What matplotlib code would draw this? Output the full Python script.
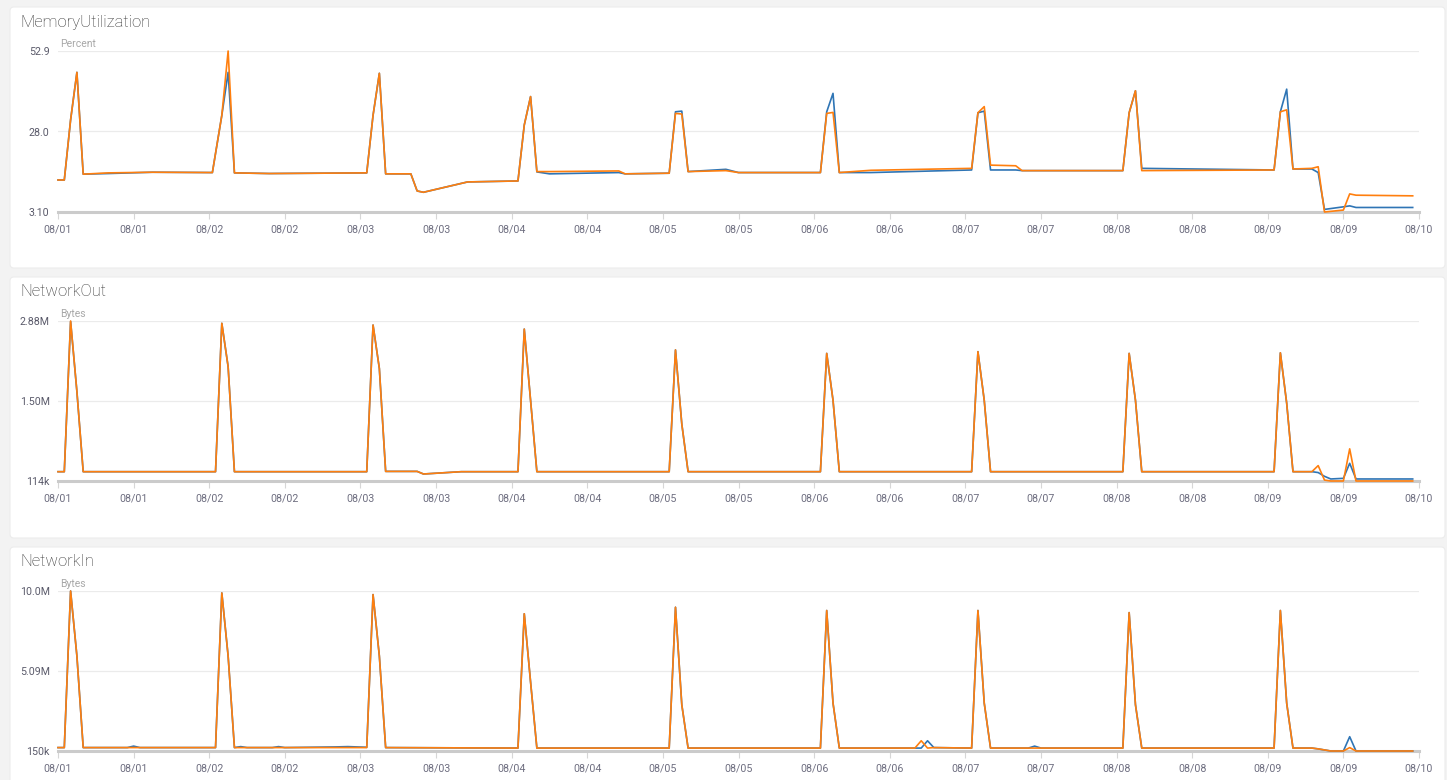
import numpy as np
import matplotlib
matplotlib.use("Agg")
import matplotlib.pyplot as plt
from matplotlib.patches import FancyBboxPatch

plt.rcParams['font.family'] = ['Roboto', 'DejaVu Sans']

# hours since 08/01 00:00
mem_t = [0, 1, 2, 3, 4, 8, 15, 24.5, 26, 27, 28, 33.5, 49, 50, 51, 52, 56, 57, 58, 65, 73, 74, 75, 76,
         78, 89, 90, 97, 98, 99, 100, 106, 108, 121, 122, 123, 124, 129, 145, 146, 147, 148, 152, 153,
         169, 170, 171, 172, 193, 194, 195, 196, 199, 200, 201, 204, 205, 206, 215]
mem_blue = [13.0, 13.0, 31.6, 46.3, 14.8, 15.0, 15.4, 15.3, 33.0, 46.3, 15.2, 15.0, 15.2, 33.0, 46.0, 14.9,
            14.9, 9.6, 9.2, 12.4, 12.7, 30.0, 38.8, 15.5, 14.9, 15.3, 14.9, 15.1, 34.1, 34.3, 15.6, 16.3,
            15.3, 15.3, 34.1, 39.8, 15.3, 15.3, 16.1, 33.8, 34.3, 16.1, 16.1, 15.9, 15.9, 33.8, 40.6, 16.6,
            16.1, 34.1, 41.1, 16.4, 16.4, 15.3, 3.9, 4.7, 5.0, 4.5, 4.5]
mem_orange = [13.0, 13.0, 31.6, 46.3, 14.8, 15.2, 15.4, 15.3, 33.0, 52.9, 15.2, 15.0, 15.2, 33.0, 46.0, 14.9,
              14.9, 9.6, 9.2, 12.4, 12.7, 30.0, 38.8, 15.6, 15.6, 15.8, 14.9, 15.1, 33.6, 33.4, 15.6, 15.9,
              15.3, 15.3, 33.6, 33.9, 15.3, 16.0, 16.6, 33.8, 35.7, 17.6, 17.4, 15.9, 15.9, 33.8, 40.6, 15.9,
              16.1, 34.1, 34.7, 16.4, 16.6, 17.1, 3.1, 3.7, 8.7, 8.3, 8.1]

# NetworkOut, millions of bytes
out_t = [0, 1, 2, 3, 4, 25, 26, 27, 28, 49, 50, 51, 52, 57, 58, 64, 73, 74, 75, 76, 97, 98, 99, 100,
         121, 122, 123, 124, 145, 146, 147, 148, 169, 170, 171, 172, 193, 194, 195, 196,
         199, 200, 201, 202, 204, 205, 206, 215]
out_blue = [0.275, 0.275, 2.87, 1.66, 0.275, 0.275, 2.84, 2.09, 0.275, 0.275, 2.81, 2.06, 0.28,
            0.28, 0.235, 0.275, 0.275, 2.74, 1.51, 0.275, 0.275, 2.38, 1.10, 0.275,
            0.275, 2.32, 1.51, 0.275, 0.275, 2.35, 1.51, 0.275, 0.275, 2.32, 1.51, 0.275,
            0.275, 2.33, 1.46, 0.275, 0.275, 0.26, 0.195, 0.149, 0.16, 0.42, 0.149, 0.149]
out_orange = [0.275, 0.275, 2.88, 1.66, 0.275, 0.275, 2.84, 2.09, 0.275, 0.275, 2.81, 2.06, 0.28,
              0.28, 0.235, 0.275, 0.275, 2.74, 1.51, 0.275, 0.275, 2.38, 1.10, 0.275,
              0.275, 2.32, 1.51, 0.275, 0.275, 2.35, 1.51, 0.275, 0.275, 2.32, 1.51, 0.275,
              0.275, 2.33, 1.46, 0.275, 0.275, 0.38, 0.13, 0.114, 0.114, 0.67, 0.114, 0.114]

# NetworkIn, millions of bytes
in_t = [0, 1, 2, 3, 4, 11, 12, 13, 25, 26, 27, 28, 29, 30, 34, 35, 36, 44, 46, 49, 50, 51, 52,
        73, 74, 75, 76, 97, 98, 99, 100, 121, 122, 123, 124, 136, 137, 138, 139,
        145, 146, 147, 148, 154, 155, 156, 169, 170, 171, 172, 193, 194, 195, 196,
        199, 200, 202, 204, 205, 206, 215]
in_blue = [0.36, 0.36, 10.0, 6.0, 0.36, 0.36, 0.45, 0.36, 0.36, 9.88, 6.0, 0.36, 0.42, 0.36,
           0.36, 0.42, 0.36, 0.40, 0.42, 0.38, 9.78, 6.0, 0.36, 0.33, 8.6, 4.4, 0.33,
           0.33, 9.0, 3.0, 0.33, 0.33, 8.8, 3.1, 0.33, 0.33, 0.33, 0.78, 0.36,
           0.33, 8.8, 3.1, 0.33, 0.33, 0.45, 0.33, 0.33, 8.67, 3.0, 0.33, 0.33, 8.8, 3.1, 0.33,
           0.33, 0.28, 0.15, 0.15, 1.03, 0.15, 0.15]
in_orange = [0.36, 0.36, 10.0, 6.0, 0.36, 0.36, 0.36, 0.36, 0.36, 9.88, 6.0, 0.36, 0.36, 0.36,
             0.36, 0.36, 0.36, 0.36, 0.36, 0.36, 9.78, 6.0, 0.36, 0.33, 8.6, 4.4, 0.33,
             0.33, 9.0, 3.0, 0.33, 0.33, 8.8, 3.1, 0.33, 0.33, 0.78, 0.33, 0.36,
             0.33, 8.8, 3.1, 0.33, 0.33, 0.33, 0.33, 0.33, 8.67, 3.0, 0.33, 0.33, 8.8, 3.1, 0.33,
             0.33, 0.28, 0.15, 0.15, 0.36, 0.15, 0.15]

x_ticks = list(range(0, 217, 12))
x_labels = ["08/01", "08/01", "08/02", "08/02", "08/03", "08/03", "08/04", "08/04", "08/05", "08/05",
            "08/06", "08/06", "08/07", "08/07", "08/08", "08/08", "08/09", "08/09", "08/10"]

panels = [
    ("MemoryUtilization", "Percent", mem_t, mem_blue, mem_orange, [3.1, 28.0, 52.9], ["3.10", "28.0", "52.9"]),
    ("NetworkOut", "Bytes", out_t, out_blue, out_orange, [0.114, 1.50, 2.88], ["114k", "1.50M", "2.88M"]),
    ("NetworkIn", "Bytes", in_t, in_blue, in_orange, [0.15, 5.09, 10.0], ["150k", "5.09M", "10.0M"]),
]

W, H = 1447, 780
fig = plt.figure(figsize=(W / 100, H / 100), dpi=100)
fig.patch.set_facecolor('#f3f3f3')

# background cards, drawn in pixel coordinates
bg = fig.add_axes([0, 0, 1, 1], zorder=0)
bg.set_xlim(0, W)
bg.set_ylim(H, 0)
bg.axis('off')
card_tops = [7, 277, 547]
for top in card_tops:
    bg.add_patch(FancyBboxPatch((10, top), 1435, 261, boxstyle="round,pad=0,rounding_size=4",
                                facecolor='white', edgecolor='#ececec', linewidth=0.8))

blue = '#2f75b5'
orange = '#ff7f0e'
plot_top = [51, 321, 591]
plot_bottom = [212, 481, 751]

for i, (title, unit, t, yb, yo, yt, yl) in enumerate(panels):
    top = card_tops[i]
    bg.text(20, top + 15, title, fontsize=12, color='#333333', va='center', ha='left', fontweight='light')
    bg.text(60, plot_top[i] - 7, unit, fontsize=7.5, color='#a8a8a8', va='center', ha='left')

    ax = fig.add_axes([58 / W, 1 - plot_bottom[i] / H, 1361 / W, (plot_bottom[i] - plot_top[i]) / H], zorder=2)
    ax.patch.set_alpha(0)
    ax.plot(t, yb, color=blue, lw=1.2, clip_on=False, zorder=3)
    ax.plot(t, yo, color=orange, lw=1.2, clip_on=False, zorder=4)
    ax.set_xlim(0, 216)
    ax.set_ylim(yt[0], yt[-1])
    ax.set_yticks(yt)
    ax.set_yticklabels(yl)
    ax.set_xticks(x_ticks)
    ax.set_xticklabels(x_labels)
    ax.grid(axis='y', color='#ebebeb', lw=0.9, zorder=0)
    ax.set_axisbelow(True)
    for s in ['top', 'right', 'left']:
        ax.spines[s].set_visible(False)
    ax.spines['bottom'].set_color('#cbcbcb')
    ax.spines['bottom'].set_linewidth(2.2)
    ax.spines['bottom'].set_zorder(1)
    ax.tick_params(axis='x', length=5, width=0.8, color='#d6d6d6', labelsize=7.7, labelcolor='#6e6e80', pad=4)
    ax.tick_params(axis='y', length=0, labelsize=7.7, labelcolor='#5a5a6a', pad=6)

fig.savefig('out.png', dpi=100, facecolor=fig.get_facecolor())
